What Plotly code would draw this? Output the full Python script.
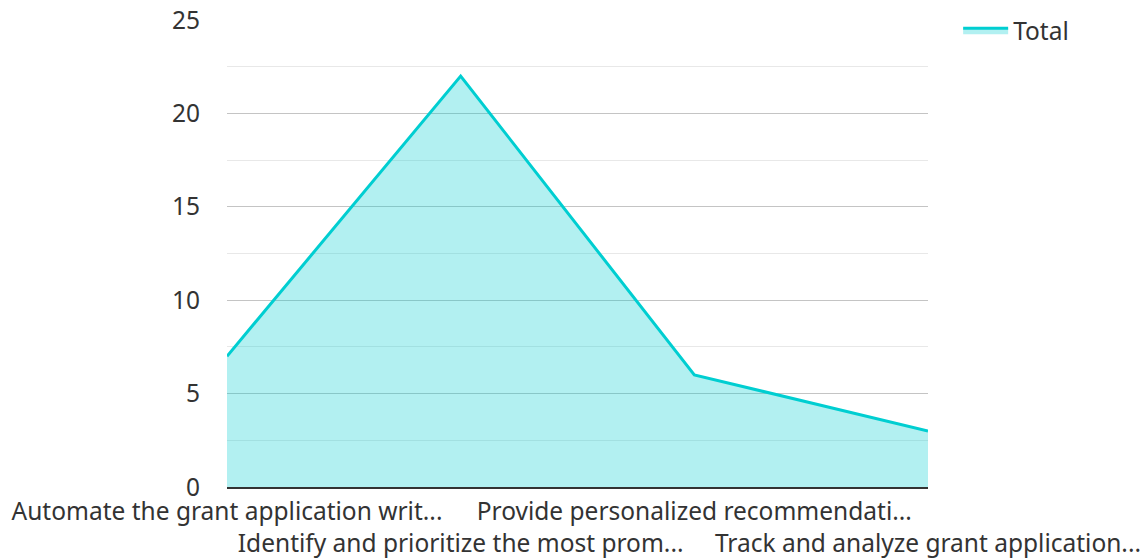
import plotly.graph_objects as go

categories = [
    "Automate the grant application writ...",
    "Identify and prioritize the most prom...",
    "Provide personalized recommendati...",
    "Track and analyze grant application...",
]
totals = [7, 22, 6, 3]

# alternate label rows so the long category names don't overlap
tick_text = [c if i % 2 == 0 else "<br>" + c for i, c in enumerate(categories)]
x_pos = list(range(len(categories)))

FONT_SIZE = 24.5

fig = go.Figure(
    go.Scatter(
        x=x_pos,
        y=totals,
        name="Total",
        mode="lines",
        line=dict(color="#00CED1", width=3),
        fill="tozeroy",
        fillcolor="rgba(0,206,209,0.3)",
        showlegend=True,
    )
)

fig.update_layout(
    width=1147,
    height=558,
    margin=dict(l=227, r=219, t=20, b=71, autoexpand=False),
    paper_bgcolor="white",
    plot_bgcolor="white",
    font=dict(family="Noto Sans, Open Sans, sans-serif", size=FONT_SIZE, color="#333333"),
    legend=dict(
        x=1.043, y=1.026, xanchor="left", yanchor="top",
        itemwidth=45,
        font=dict(size=FONT_SIZE, color="#333333"),
        bgcolor="rgba(0,0,0,0)",
    ),
    xaxis=dict(
        range=[0, 3],
        tickvals=x_pos,
        ticktext=tick_text,
        tickangle=0,
        automargin=False,
        showgrid=False,
        zeroline=False,
        showline=True,
        linecolor="#333333",
        linewidth=2,
        ticks="",
        ticklabelstandoff=2,
        tickfont=dict(size=FONT_SIZE, color="#333333"),
        layer="above traces",
    ),
    yaxis=dict(
        range=[0, 25],
        dtick=5,
        automargin=False,
        showgrid=True,
        gridcolor="#c4c4c4",
        gridwidth=1,
        zeroline=False,
        showline=False,
        ticks="",
        ticklabelstandoff=26,
        tickfont=dict(size=FONT_SIZE, color="#333333"),
        minor=dict(dtick=2.5, showgrid=True, gridcolor="#e8e8e8", gridwidth=1),
    ),
)

fig.write_html("out.html")
